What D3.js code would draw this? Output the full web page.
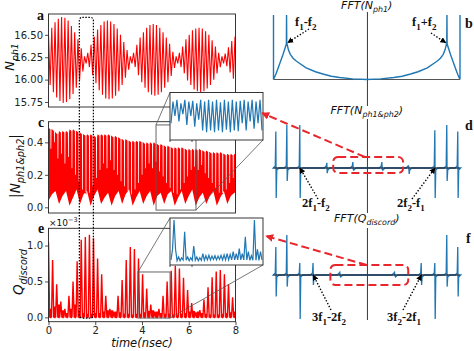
<!DOCTYPE html>
<html>
<head>
<meta charset="utf-8">
<script src="https://cdn.jsdelivr.net/npm/d3@7"></script>
<style>
  body { margin: 0; background: #fff; }
  svg { display: block; font-family: "DejaVu Sans", sans-serif; }
</style>
</head>
<body>
<svg width="474" height="351"></svg>
<script>
// values
const timeTicks = [0, 2, 4, 6, 8];
const nph1Ticks = [15.75, 16.00, 16.25, 16.50];
const nph12Ticks = [0.0, 0.2, 0.4];
const qTicks = [0.0, 0.5, 1.0];

// (a) N_ph1 : amplitude of each carrier cycle around the mean
const nph1Mid = 16.22;
const nph1Period = 0.14;
const nph1Amp = [0.28,0.36,0.42,0.46,0.48,0.47,0.44,0.38,0.31,0.23,
  0.13,0.04,0.08,0.17,0.26,0.34,0.39,0.43,0.44,0.43,
  0.40,0.35,0.28,0.20,0.11,0.04,0.08,0.17,0.25,0.31,
  0.36,0.39,0.40,0.39,0.36,0.31,0.25,0.18,0.09,0.04,
  0.08,0.15,0.23,0.28,0.33,0.35,0.36,0.35,0.32,0.28,
  0.22,0.15,0.08,0.04,0.07,0.14,0.21,0.26];

// (c) |N_ph1&ph2| : top, slit depth and bottom of each cycle
const cPeriod = 0.15;
const cTop = [0.49,0.48,0.46,0.47,0.47,0.47,0.48,0.48,0.47,0.46,
  0.45,0.45,0.45,0.44,0.45,0.45,0.45,0.45,0.44,0.44,
  0.43,0.42,0.42,0.41,0.41,0.41,0.41,0.40,0.40,0.40,
  0.40,0.39,0.39,0.38,0.38,0.37,0.37,0.37,0.37,0.36,
  0.36,0.36,0.36,0.36,0.35,0.35,0.34,0.34,0.34,0.34,
  0.33,0.33,0.33,0.33];
const cDip = [0.36,0.40,0.30,0.33,0.27,0.31,0.24,0.20,0.16,0.11,
  0.08,0.09,0.13,0.18,0.23,0.27,0.24,0.29,0.23,0.20,
  0.16,0.13,0.10,0.08,0.11,0.15,0.20,0.24,0.27,0.24,
  0.28,0.22,0.19,0.15,0.12,0.09,0.08,0.11,0.15,0.19,
  0.23,0.25,0.23,0.26,0.21,0.18,0.15,0.12,0.09,0.08,
  0.11,0.15,0.18,0.22];
const cBot = [0.04,0.08,0.10,0.02,0.07,0.10,0.01,0.06,0.11,0.02,
  0.08,0.10,0.01,0.07,0.11,0.02,0.06,0.09,0.01,0.07,
  0.10,0.02,0.08,0.11,0.01,0.06,0.10,0.02,0.07,0.10,
  0.01,0.07,0.09,0.02,0.08,0.10,0.01,0.06,0.10,0.02,
  0.07,0.11,0.01,0.06,0.09,0.02,0.07,0.10,0.01,0.06,
  0.10,0.02,0.07,0.09];

// (e) Q_discord (x1e-3) : spike heights and noise floor
const qPeriod = 0.175;
const qSpike = [1.05,0.80,0.46,0.22,0.12,0.30,0.50,0.78,1.08,1.12,
  1.15,1.10,0.82,0.60,0.30,0.12,0.08,0.30,0.52,0.80,
  0.98,0.95,0.82,0.60,0.40,0.18,0.08,0.12,0.30,0.50,
  0.65,0.72,0.68,0.55,0.38,0.20,0.07,0.10,0.25,0.42,
  0.56,0.64,0.66,0.60,0.46,0.28];
const qBase = [0.12,0.15,0.18,0.10,0.06,0.12,0.18,0.10,0.06,0.05,
  0.05,0.06,0.06,0.08,0.10,0.10,0.08,0.07,0.05,0.05,
  0.04,0.05,0.05,0.07,0.09,0.10,0.08,0.06,0.05,0.05,
  0.04,0.04,0.05,0.06,0.08,0.09,0.08,0.06,0.05,0.04,
  0.04,0.04,0.05,0.06,0.07,0.08];

// zoomed insets (normalised)
const insetC = [0.30,0.90,0.50,0.95,0.35,0.85,0.55,0.95,0.25,0.90,
  0.50,0.92,0.20,0.85,0.40,0.95,0.10,0.90,0.05,0.95,
  0.10,0.90,0.05,0.95,0.10,0.88,0.05,0.95,0.12,0.90,
  0.05,0.95,0.10,0.90,0.08,0.92,0.30,0.95,0.10,0.90,
  0.35,0.95,0.15,0.90,0.30,0.95,0.10];
const insetE = [0.05,0.30,1.00,0.30,0.03,0.12,0.03,0.10,0.05,0.72,
  0.04,0.12,0.03,0.10,0.04,0.38,0.04,0.12,0.03,0.10,
  0.04,0.20,0.04,0.15,0.05,0.16,0.05,0.14,0.06,0.15,
  0.05,0.14,0.06,0.16,0.05,0.17,0.05,0.20,0.05,0.18,
  0.05,0.25,0.05,0.20,0.05,0.32,0.05,0.20,0.05,0.60,
  0.05,0.25,0.04,0.15,0.04,1.00,0.04,0.30,0.04,0.25,
  0.05];

// annotation windows (data units)
const dotWindow = [1.32, 1.92];
const cZoom = {t: [4.60, 6.31], v: [-0.017, 0.507]};
const eZoom = {t: [3.83, 5.20], v: [-0.009, 0.632]};

// (b) FFT(N_ph1) curve, frequency normalised to [-1, 1]
const fftB = [[-1,1.0],[-1,0],[-0.975,0.08],[-0.95,0.18],[-0.925,0.28],[-0.9,0.38],[-0.88,0.47],
  [-0.862,0.55],[-0.86,1.0],[-0.858,0.57],[-0.84,0.46],[-0.82,0.39],[-0.79,0.33],[-0.76,0.29],
  [-0.73,0.26],[-0.65,0.18],[-0.55,0.12],[-0.47,0.085],[-0.38,0.05],[-0.29,0.03],[-0.15,0.01],[0,0],
  [0.15,0.01],[0.29,0.03],[0.38,0.05],[0.47,0.085],[0.55,0.12],[0.65,0.18],[0.73,0.26],[0.76,0.29],
  [0.79,0.33],[0.82,0.39],[0.84,0.46],[0.858,0.57],[0.86,1.0],[0.862,0.55],[0.88,0.47],[0.9,0.38],
  [0.925,0.28],[0.95,0.18],[0.975,0.08],[1,0],[1,1.0]];

// (d) FFT(N_ph1&ph2) peaks
const dFreq = [-0.973,-0.855,-0.716,-0.426,-0.147,0.164,0.453,0.732,0.86,0.978];
const dUp   = [0.85,1.0,1.0,0.12,0.14,0.14,0.03,0.88,1.0,0.85];
const dDown = [0.7,0.3,0.7,0.12,0.03,0.03,0.14,0.7,0.3,0.7];

// (f) FFT(Q_discord) peaks
const fFreq = [-0.973,-0.855,-0.716,-0.574,-0.287,0.3,0.586,0.732,0.86,0.978];
const fUp   = [0.7,1.0,0.3,0.3,0.07,0.07,0.3,0.3,1.0,0.7];
const fDown = [0.54,0.29,1.1,0.25,0.02,0.02,0.25,1.1,0.29,0.54];

const red = "#ff0000", blue = "#1f77b4", dash = "#e8262c";
const svg = d3.select("svg");
svg.append("rect").attr("width", 474).attr("height", 351).attr("fill", "#fff");

const defs = svg.append("defs");
function marker(id, color, size) {
  defs.append("marker").attr("id", id).attr("viewBox", "0 0 10 10")
    .attr("refX", 9).attr("refY", 5).attr("markerUnits", "userSpaceOnUse")
    .attr("markerWidth", size).attr("markerHeight", size).attr("orient", "auto")
    .append("path").attr("d", "M0,0L10,5L0,10z").attr("fill", color);
}
marker("blackHead", "#000", 6);
marker("redHead", dash, 8);

// text with sub/superscripts: parts = [[str, 0|1|-1]]
function rich(g, x, y, parts, size, opts = {}) {
  const t = g.append("text").attr("x", x).attr("y", y).attr("font-size", size)
    .attr("text-anchor", opts.anchor || "start")
    .attr("font-family", opts.family || "DejaVu Sans")
    .attr("font-style", opts.italic ? "italic" : null)
    .attr("font-weight", opts.bold ? "bold" : null)
    .attr("transform", opts.rotate ? `rotate(-90,${x},${y})` : null)
    .attr("fill", "#111");
  let shift = 0;
  parts.forEach(([s, kind]) => {
    const target = kind === 1 ? size * 0.3 : kind === -1 ? -size * 0.42 : 0;
    t.append("tspan").attr("dy", target - shift)
      .attr("font-size", kind ? size * 0.72 : size).text(s);
    shift = target;
  });
  return t;
}

// ---------- left column ----------
const x = d3.scaleLinear().domain([0, 8]).range([48.5, 235.5]);
const ya = d3.scaleLinear().domain([15.694, 16.733]).range([107, 14]);
const yc = d3.scaleLinear().domain([-0.035, 0.527]).range([213, 121.7]);
const ye = d3.scaleLinear().domain([-0.06, 1.24]).range([321.7, 228.3]);

function clip(id, y) {
  defs.append("clipPath").attr("id", id).append("rect")
    .attr("x", x.range()[0]).attr("y", y.range()[1])
    .attr("width", x.range()[1] - x.range()[0]).attr("height", y.range()[0] - y.range()[1]);
}
clip("clipA", ya); clip("clipC", yc); clip("clipE", ye);

function frame(y, ticks, fmt) {
  svg.append("rect").attr("x", x.range()[0]).attr("y", y.range()[1])
    .attr("width", x.range()[1] - x.range()[0]).attr("height", y.range()[0] - y.range()[1])
    .attr("fill", "none").attr("stroke", "#222").attr("stroke-width", 0.9);
  const ax = svg.append("g").attr("transform", `translate(${x.range()[0]},0)`)
    .call(d3.axisLeft(y).tickValues(ticks).tickFormat(d3.format(fmt)).tickSize(3.5).tickPadding(2));
  ax.select(".domain").remove();
  ax.attr("font-family", "DejaVu Sans").attr("font-size", 10);
  ax.selectAll("text").attr("fill", "#222");
  ax.selectAll("line").attr("stroke", "#222").attr("stroke-width", 0.8);
}

// (a)
const aPts = [];
nph1Amp.forEach((amp, k) => {
  aPts.push([k * nph1Period, nph1Mid + amp]);
  aPts.push([k * nph1Period + nph1Period / 2, nph1Mid - amp]);
});
svg.append("path").attr("clip-path", "url(#clipA)")
  .attr("d", d3.line().x(d => x(d[0])).y(d => ya(d[1]))(aPts))
  .attr("fill", "none").attr("stroke", red).attr("stroke-width", 1.1);

// (c)
const cUpper = [], cLower = [];
cTop.forEach((top, k) => {
  const t = k * cPeriod;
  cUpper.push([t, top], [t + 0.08, top - 0.01], [t + 0.088, cDip[k]],
              [t + 0.118, cDip[k]], [t + 0.126, top - 0.01]);
  cLower.push([t, cBot[k]]);
  if (k === cTop.length - 1) cLower.push([t + cPeriod, cBot[k]]);
});
const cPoly = cUpper.concat(cLower.reverse());
svg.append("path").attr("clip-path", "url(#clipC)")
  .attr("d", d3.line().x(d => x(d[0])).y(d => yc(d[1]))(cPoly) + "Z")
  .attr("fill", red).attr("stroke", "none");

// (e)
const ePts = [];
qSpike.forEach((h, k) => {
  const t = k * qPeriod;
  ePts.push([t, h], [t + 0.05, -0.005], [t + 0.075, qBase[k]], [t + 0.1, -0.01],
            [t + 0.115, qBase[k]], [t + 0.13, 0.0]);
});
svg.append("path").attr("clip-path", "url(#clipE)")
  .attr("d", d3.line().x(d => x(d[0])).y(d => ye(d[1]))(ePts))
  .attr("fill", "none").attr("stroke", red).attr("stroke-width", 1.4);

frame(ya, nph1Ticks, ".2f");
frame(yc, nph12Ticks, ".1f");
frame(ye, qTicks, ".1f");

const xa = svg.append("g").attr("transform", `translate(0,${ye.range()[0]})`)
  .call(d3.axisBottom(x).tickValues(timeTicks).tickSize(3.5).tickPadding(2));
xa.select(".domain").remove();
xa.attr("font-family", "DejaVu Sans").attr("font-size", 10);
xa.selectAll("text").attr("fill", "#222");
xa.selectAll("line").attr("stroke", "#222").attr("stroke-width", 0.8);

// labels
rich(svg, 14, 57, [["N", 0], ["ph1", 1]], 13, {italic: true, anchor: "middle", rotate: true});
rich(svg, 20, 166, [["|N", 0], ["ph1&ph2", 1], ["|", 0]], 13.5, {italic: true, anchor: "middle", rotate: true});
rich(svg, 23, 272, [["Q", 0], ["discord", 1]], 13.5, {italic: true, anchor: "middle", rotate: true});
rich(svg, 142, 347, [["time(nsec)", 0]], 11.5, {italic: true, anchor: "middle"});
rich(svg, 49, 226, [["\u00d710", 0], ["\u22123", -1]], 9);
rich(svg, 37, 20, [["a", 0]], 14, {bold: true, family: "Liberation Serif"});
rich(svg, 38, 127, [["c", 0]], 14, {bold: true, family: "Liberation Serif"});
rich(svg, 38, 233, [["e", 0]], 14, {bold: true, family: "Liberation Serif"});

// zoom boxes and connectors
const grey = "#555";
function zoomBox(y, z) {
  svg.append("rect").attr("x", x(z.t[0])).attr("y", y(z.v[1]))
    .attr("width", x(z.t[1]) - x(z.t[0])).attr("height", y(z.v[0]) - y(z.v[1]))
    .attr("fill", "none").attr("stroke", grey).attr("stroke-width", 0.9);
}
zoomBox(yc, cZoom);
zoomBox(ye, eZoom);

const insetBoxC = {x0: 170, x1: 263, y0: 92.5, y1: 140};
const insetBoxE = {x0: 170, x1: 263, y0: 218, y1: 265};
function connector(x1, y1, x2, y2) {
  svg.append("line").attr("x1", x1).attr("y1", y1).attr("x2", x2).attr("y2", y2)
    .attr("stroke", grey).attr("stroke-width", 0.8);
}
connector(x(cZoom.t[0]), yc(cZoom.v[1]), insetBoxC.x0, insetBoxC.y0);
connector(x(cZoom.t[1]), yc(cZoom.v[0]), insetBoxC.x1, insetBoxC.y1);
connector(x(eZoom.t[0]), ye(eZoom.v[1]), insetBoxE.x0, insetBoxE.y0);
connector(x(eZoom.t[1]), ye(eZoom.v[0]), insetBoxE.x1, insetBoxE.y1);

function inset(box, data, top, bottom) {
  svg.append("rect").attr("x", box.x0).attr("y", box.y0)
    .attr("width", box.x1 - box.x0).attr("height", box.y1 - box.y0)
    .attr("fill", "#fff").attr("stroke", "#222").attr("stroke-width", 0.9);
  const ix = d3.scaleLinear().domain([0, data.length - 1]).range([box.x0 + 1, box.x1 - 1]);
  const iy = d3.scaleLinear().domain([0, 1]).range([bottom, top]);
  svg.append("path").attr("d", d3.line().x((d, i) => ix(i)).y(d => iy(d))(data))
    .attr("fill", "none").attr("stroke", blue).attr("stroke-width", 1.2);
  [box.x0, box.x0 + 22].forEach(tx => svg.append("line")
    .attr("x1", tx).attr("x2", tx).attr("y1", box.y1).attr("y2", box.y1 + 2)
    .attr("stroke", "#222").attr("stroke-width", 0.8));
}
inset(insetBoxC, insetC, 98, 134);
inset(insetBoxE, insetE, 220, 262);

// dotted time window across all three panels
svg.append("rect").attr("x", x(dotWindow[0])).attr("y", ya(16.696))
  .attr("width", x(dotWindow[1]) - x(dotWindow[0])).attr("height", ye(-0.009) - ya(16.696))
  .attr("rx", 3).attr("fill", "none").attr("stroke", "#000")
  .attr("stroke-width", 1.2).attr("stroke-dasharray", "1.5,1.5");

// ---------- right column ----------
const fx = d3.scaleLinear().domain([-1, 1]).range([273.5, 460]);
const yb = d3.scaleLinear().domain([0, 1]).range([79.5, 15]);
const yd = d3.scaleLinear().domain([-1, 1]).range([211, 125]);
const yf = d3.scaleLinear().domain([-1, 1]).range([315, 235]);

function vline(y1, y2) {
  svg.append("line").attr("x1", fx(0) + 0.7).attr("x2", fx(0) + 0.7).attr("y1", y1).attr("y2", y2)
    .attr("stroke", "#222").attr("stroke-width", 0.9);
}
vline(12, 106); vline(119, 213); vline(228, 320);

// (b)
svg.append("line").attr("x1", fx(-1)).attr("x2", fx(1)).attr("y1", yb(0)).attr("y2", yb(0))
  .attr("stroke", "#555").attr("stroke-width", 1);
svg.append("path").attr("d", d3.line().x(d => fx(d[0])).y(d => yb(d[1]))(fftB))
  .attr("fill", "none").attr("stroke", blue).attr("stroke-width", 1.4);

// spectra with dispersive peaks
function spectrum(freq, up, down, y) {
  const pts = [[-1, 0]];
  freq.forEach((f, i) => {
    pts.push([f - 0.03, 0], [f - 0.008, 0.05], [f - 0.002, up[i]],
             [f + 0.002, -down[i]], [f + 0.008, -0.05], [f + 0.03, 0]);
  });
  pts.push([1, 0]);
  svg.append("path").attr("d", d3.line().x(d => fx(d[0])).y(d => y(d[1]))(pts))
    .attr("fill", "none").attr("stroke", blue).attr("stroke-width", 1.3);
  svg.append("line").attr("x1", fx(-1)).attr("x2", fx(1)).attr("y1", y(0)).attr("y2", y(0))
    .attr("stroke", "#1b2436").attr("stroke-width", 1.5).attr("opacity", 0.85);
}
spectrum(dFreq, dUp, dDown, yd);
spectrum(fFreq, fUp, fDown, yf);

// titles
rich(svg, fx(0), 9, [["FFT(", 0], ["N", 0], ["ph1", 1], [")", 0]], 11, {italic: true, anchor: "middle"});
rich(svg, fx(0), 114, [["FFT(", 0], ["N", 0], ["ph1&ph2", 1], [")", 0]], 11, {italic: true, anchor: "middle"});
rich(svg, fx(0), 222, [["FFT(", 0], ["Q", 0], ["discord", 1], [")", 0]], 11, {italic: true, anchor: "middle"});

// panel letters
rich(svg, 465, 28, [["b", 0]], 14, {bold: true, family: "Liberation Serif"});
rich(svg, 465, 130, [["d", 0]], 14, {bold: true, family: "Liberation Serif"});
rich(svg, 466, 243, [["f", 0]], 14, {bold: true, family: "Liberation Serif"});

// frequency labels and dotted arrows
const serif = {bold: true, family: "Liberation Serif"};
rich(svg, 295, 26, [["f", 0], ["1", 1], ["-f", 0], ["2", 1]], 12.5, serif);
rich(svg, 412, 26, [["f", 0], ["1", 1], ["+f", 0], ["2", 1]], 12.5, serif);
rich(svg, 302, 207, [["2f", 0], ["1", 1], ["-f", 0], ["2", 1]], 12.5, serif);
rich(svg, 397, 207, [["2f", 0], ["2", 1], ["-f", 0], ["1", 1]], 12.5, serif);
rich(svg, 312, 321, [["3f", 0], ["1", 1], ["-2f", 0], ["2", 1]], 12.5, serif);
rich(svg, 387, 321, [["3f", 0], ["2", 1], ["-2f", 0], ["1", 1]], 12.5, serif);

function dotArrow(x1, y1, x2, y2) {
  svg.append("line").attr("x1", x1).attr("y1", y1).attr("x2", x2).attr("y2", y2)
    .attr("stroke", "#000").attr("stroke-width", 1.4).attr("stroke-dasharray", "1.4,1.8")
    .attr("marker-end", "url(#blackHead)");
}
dotArrow(309, 29, fx(fftB[9][0]) + 1, yb(fftB[9][1]));
dotArrow(431, 33, fx(fftB[33][0]) - 1, yb(fftB[33][1]));
dotArrow(318, 199, fx(dFreq[2]), yd(0));
dotArrow(412, 199, fx(dFreq[7]), yd(0));
dotArrow(331, 310, fx(fFreq[3]), yf(0));
dotArrow(403, 310, fx(fFreq[6]), yf(0));

// red dashed windows and arrows to the insets
function redWindow(x0, y0, x1, y1) {
  svg.append("rect").attr("x", x0).attr("y", y0).attr("width", x1 - x0).attr("height", y1 - y0)
    .attr("rx", 5).attr("fill", "none").attr("stroke", dash)
    .attr("stroke-width", 2).attr("stroke-dasharray", "8,4");
}
redWindow(fx(-0.36), 157, fx(0.39), 173);
redWindow(fx(-0.39), 265, fx(0.445), 285);
function redArrow(x1, y1, x2, y2) {
  svg.append("line").attr("x1", x1).attr("y1", y1).attr("x2", x2).attr("y2", y2)
    .attr("stroke", dash).attr("stroke-width", 2).attr("stroke-dasharray", "8,4")
    .attr("marker-end", "url(#redHead)");
}
redArrow(fx(-0.02), 157, insetBoxC.x1 - 1, insetBoxC.y1 - 27);
redArrow(fx(0), 265, insetBoxE.x1 + 3, insetBoxE.y0 + 18);
</script>
</body>
</html>
